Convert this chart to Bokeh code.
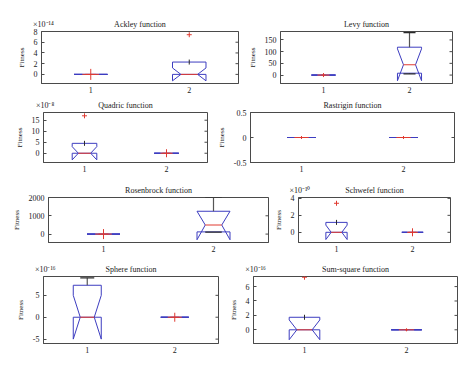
from bokeh.plotting import figure
from bokeh.layouts import column, row
from bokeh.models import FixedTicker, LinearAxis, Range1d
from bokeh.embed import file_html
from bokeh.resources import INLINE

# ---------------- data (values in units of each panel's ×10^n factor) -------------
titles = ["Ackley function", "Levy function", "Quadric function", "Rastrigin function",
          "Rosenbrock function", "Schwefel function", "Sphere function", "Sum-square function"]
exponents = ["×10⁻¹⁴", None, "×10⁻⁸", None, None, "×10⁻¹⁰", "×10⁻¹⁶", "×10⁻¹⁶"]
groups = [1, 2]
group_labels = ["1", "2"]

y_ranges = [(-1.7, 8.0), (-36, 186), (-4.2, 18.5), (-0.5, 0.5),
            (-460, 2000), (-1.2, 4.1), (-6.0, 9.3), (-1.9, 7.4)]
y_ticks = [[0, 2, 4, 6, 8], [0, 50, 100, 150], [0, 5, 10, 15], [-0.5, 0, 0.5],
           [0, 1000, 2000], [0, 2, 4], [-5, 0, 5], [0, 2, 4, 6]]
y_tick_labels = [["0", "2", "4", "6", "8"], ["0", "50", "100", "150"], ["0", "5", "10", "15"],
                 ["-0.5", "0", "0.5"], ["0", "1000", "2000"], ["0", "2", "4"],
                 ["-5", "0", "5"], ["0", "2", "4", "6"]]

# per panel, per group: [group1, group2]
q1 = [[0, 0], [0, 8], [0, 0], [0, 0], [0, 120], [0, 0], [0, 0], [0, 0]]
median = [[0, 0], [0, 44], [0, 0], [0, 0], [0, 496], [0, 0], [0, 0], [0, 0]]
q3 = [[0, 2.3], [0, 119], [4.5, 0], [0, 0], [0, 1248], [1.17, 0], [7.3, 0], [1.74, 0]]
notch_lo = [[0, -1.2], [0, -24], [-3.0, 0], [0, 0], [0, -308], [-0.85, 0], [-5.0, 0], [-1.37, 0]]
notch_hi = [[0, 1.2], [0, 112], [3.0, 0], [0, 0], [0, 1248], [0.85, 0], [5.0, 0], [1.37, 0]]
whisker_lo = [[0, 0], [0, 5], [0, 0], [0, 0], [0, 110], [0, 0], [0, 0], [0, 0]]
whisker_hi = [[0, 2.3], [0, 181], [4.5, 0], [0, 0], [0, 2000], [1.17, 0], [9.0, 0], [1.74, 0]]
outliers = [[[0], [7.4]], [[0], []], [[17.0], [0]], [[0], [0]],
            [[0], []], [[3.42], [0]], [[], [0]], [[7.3], [0]]]

# ---------------- layout / style (page pixel coordinates) ----------------
# fig x0, x1, y0, y1, frame x0, x1, y0, y1
geom = [
    (0, 245, 0, 97, 41, 238, 30, 83),
    (245, 470, 0, 97, 278, 452, 31, 83),
    (0, 214, 97, 178, 43, 207, 112, 162),
    (214, 470, 97, 178, 248, 454, 110, 164),
    (0, 271, 178, 256, 48, 268, 194, 242),
    (271, 470, 178, 256, 297, 450, 197, 243),
    (0, 226, 256, 368, 43, 218, 273, 343),
    (226, 470, 256, 368, 250, 457, 276, 343),
]
half_w = [0.17, 0.14, 0.15, 0.14, 0.15, 0.14, 0.16, 0.15]
zero_cross = [11, 4, 8, 3, 10, 8, 9, 3]
exp_pos = 0.52
title_pos = 1.5

FONT = "Liberation Serif"
BLUE = "#3d3dc0"
RED = "#e03a30"
DARK = "#2a2a2a"
FRAME = "#4a4a4a"
TXT = "#222222"


def panel(i):
    fx0, fx1, fy0, fy1, px0, px1, py0, py1 = geom[i]
    x_lo, x_hi = 0.5, 2.5
    p = figure(width=fx1 - fx0, height=fy1 - fy0, title=None,
               x_range=Range1d(x_lo, x_hi), y_range=Range1d(*y_ranges[i]),
               output_backend="svg", toolbar_location=None,
               min_border_left=px0 - fx0, min_border_right=fx1 - px1,
               min_border_top=py0 - fy0, min_border_bottom=fy1 - py1)
    p.grid.visible = False
    p.outline_line_color = FRAME
    p.outline_line_width = 1
    p.background_fill_color = "white"
    p.border_fill_color = "white"

    ya = p.left[0]
    ya.ticker = FixedTicker(ticks=y_ticks[i], minor_ticks=[])
    ya.major_label_overrides = {t: s for t, s in zip(y_ticks[i], y_tick_labels[i])}
    ya.axis_label = "Fitness"
    ya.axis_label_text_font = FONT
    ya.axis_label_text_font_size = "7px"
    ya.axis_label_text_font_style = "normal"
    ya.axis_label_text_color = TXT
    ya.axis_label_standoff = 5
    ya.major_label_text_font = FONT
    ya.major_label_text_font_size = "8px"
    ya.major_label_text_color = TXT
    ya.major_label_standoff = 4
    ya.major_tick_in = 3
    ya.major_tick_out = 0
    ya.minor_tick_line_color = None
    ya.axis_line_color = FRAME
    ya.major_tick_line_color = FRAME

    xa = p.below[0]
    xa.ticker = FixedTicker(ticks=groups, minor_ticks=[])
    xa.major_label_overrides = {g: s for g, s in zip(groups, group_labels)}
    xa.major_label_text_font = FONT
    xa.major_label_text_font_size = "8px"
    xa.major_label_text_color = TXT
    xa.major_label_standoff = 3
    xa.major_tick_in = 0
    xa.major_tick_out = 0
    xa.minor_tick_line_color = None
    xa.axis_line_color = FRAME

    # title (and ×10^n factor) as labels of an axis above the frame
    top_ticks = [title_pos]
    top_labels = {title_pos: titles[i]}
    if exponents[i]:
        top_ticks = [exp_pos, title_pos]
        top_labels[exp_pos] = exponents[i]
    ta = LinearAxis(ticker=FixedTicker(ticks=top_ticks, minor_ticks=[]),
                    major_label_overrides=top_labels, major_tick_in=0, major_tick_out=0,
                    axis_line_color=None, minor_tick_line_color=None,
                    major_label_standoff=3, major_label_text_font=FONT,
                    major_label_text_font_size="8px", major_label_text_color=TXT)
    p.add_layout(ta, "above")

    # inward ticks on the right edge of the box (half of each dash is clipped)
    p.scatter(x=[x_hi] * len(y_ticks[i]), y=y_ticks[i], marker="dash", size=6,
              line_color=FRAME, line_width=1)

    w = half_w[i]
    nw = w / 2
    cw = w / 2
    box_xs, box_ys = [], []
    med_x0, med_x1, med_y = [], [], []
    wk_x, wk_y0, wk_y1 = [], [], []
    cap_x0, cap_x1, cap_y = [], [], []
    tick_x, tick_y = [], []
    out_x, out_y, out_s = [], [], []
    for g in range(2):
        c = groups[g]
        a, m, b = q1[i][g], median[i][g], q3[i][g]
        nl, nh = notch_lo[i][g], notch_hi[i][g]
        box_xs.append([c - w, c - w, c - nw, c - w, c - w, c + w, c + w, c + nw, c + w, c + w, c - w])
        box_ys.append([a, nl, m, nh, b, b, nh, m, nl, a, a])
        med_x0.append(c - nw); med_x1.append(c + nw); med_y.append(m)
        is_box = b > a
        for lo, hi, end in ((b, whisker_hi[i][g], whisker_hi[i][g]),
                            (whisker_lo[i][g], a, whisker_lo[i][g])):
            if hi > lo:
                wk_x.append(c); wk_y0.append(lo); wk_y1.append(hi)
                cap_x0.append(c - cw); cap_x1.append(c + cw); cap_y.append(end)
            elif is_box and end == b:
                tick_x.append(c); tick_y.append(end)
        for v in outliers[i][g]:
            out_x.append(c); out_y.append(v)
            out_s.append(zero_cross[i] if not is_box and v == m else 5)

    p.multi_line(xs=box_xs, ys=box_ys, line_color=BLUE, line_width=1)
    if wk_x:
        p.segment(x0=wk_x, x1=wk_x, y0=wk_y0, y1=wk_y1, line_color="#555555",
                  line_width=1.2)
        p.segment(x0=cap_x0, x1=cap_x1, y0=cap_y, y1=cap_y, line_color=DARK, line_width=1.2)
    if tick_x:
        p.scatter(x=tick_x, y=tick_y, marker="dash", angle=1.5708, size=5,
                  line_color=DARK, line_width=1)
    p.segment(x0=med_x0, x1=med_x1, y0=med_y, y1=med_y, line_color=RED, line_width=1)
    if out_x:
        p.scatter(x=out_x, y=out_y, marker="cross", size=out_s, line_color=RED, line_width=1)
    return p


panels = [panel(i) for i in range(8)]
layout = column(row(panels[0], panels[1]), row(panels[2], panels[3]),
                row(panels[4], panels[5]), row(panels[6], panels[7]))

open("out.html", "w").write(file_html(layout, INLINE))
